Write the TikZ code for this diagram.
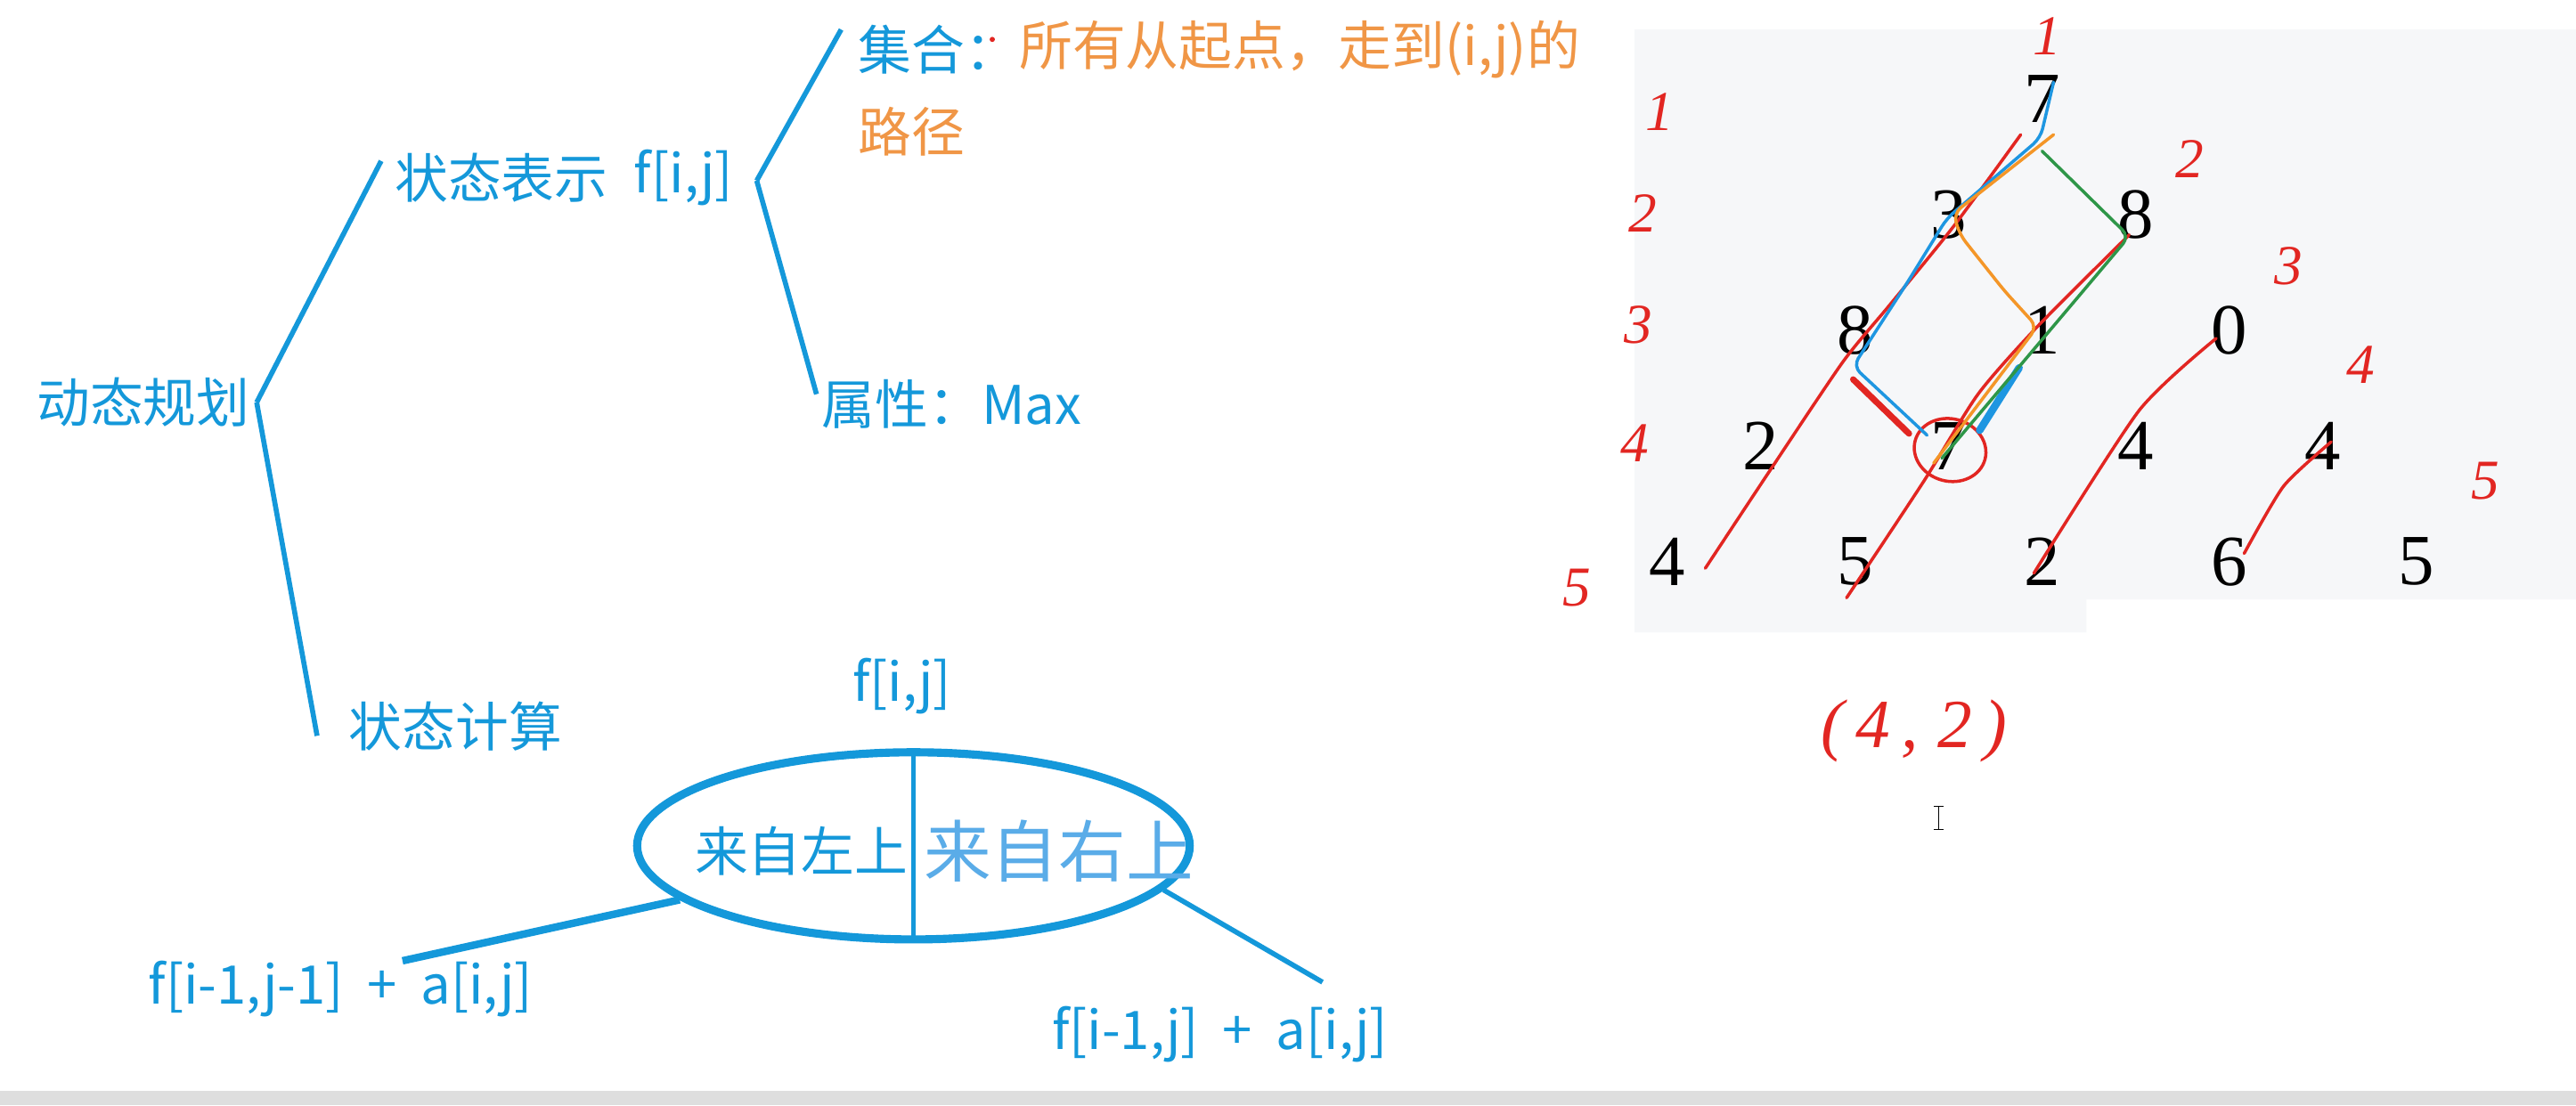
\documentclass[tikz,border=0pt]{standalone}
\usepackage{fontspec}
\setmainfont{Liberation Serif}
\newfontfamily\cjk{Noto Sans CJK SC}
\usepackage{xcolor}
\usetikzlibrary{positioning}
\usetikzlibrary{shapes.geometric,calc}
\definecolor{mindblue}{RGB}{20,152,218}
\definecolor{lightblue}{RGB}{90,172,232}
\definecolor{setorange}{RGB}{240,150,70}
\definecolor{inkred}{RGB}{226,38,34}
\definecolor{inkgreen}{RGB}{46,150,72}
\definecolor{inkorange}{RGB}{244,150,40}
\definecolor{inkblue}{RGB}{30,150,225}
\definecolor{panelgray}{RGB}{246,247,249}
\definecolor{bargray}{RGB}{222,222,222}
\newcommand\inkline[2]{%
	\draw[ink,#1] plot[smooth,tension=0.4] coordinates {#2};}

\begin{document}
\begin{tikzpicture}[x=0.01844cm,y=-0.01844cm,
	cjktext/.style={font=\cjk\fontsize{17}{20}\selectfont,text=mindblue,inner sep=0pt},
	branch/.style={draw=mindblue,line width=1.6pt},
	trinum/.style={font=\fontsize{23}{26}\selectfont,inner sep=0pt},
	inknum/.style={font=\itshape\fontsize{18}{20}\selectfont,text=inkred,inner sep=0pt},
	ink/.style={line width=1pt,line cap=round,line join=round}]
	\useasboundingbox (0,0) rectangle (1568,673);
	\fill[white] (0,0) rectangle (1568,673);
	\fill[bargray] (0,664) rectangle (1568,673);
	% mind map
	\node[cjktext,anchor=west] (dp) at (22,245) {动态规划};
	\node[cjktext,anchor=west] (repr) at (240,108) {状态表示};
	\node[cjktext,right=2.8mm of repr] (fij) {f[i,j]};
	\node[cjktext,anchor=west] (setlbl) at (522,30) {集合：};
	\node[cjktext,text=setorange,right=0pt of setlbl] (setdesc) {所有从起点，走到(i,j)的};
	\node[cjktext,text=setorange,anchor=west] (setpath) at (522,80) {路径};
	\node[cjktext,anchor=west] (attr) at (500,246) {属性：Max};
	\node[cjktext,anchor=west] (comp) at (212,442) {状态计算};
	\fill[inkred] (604,24) circle (1.6);
	\draw[branch] ([xshift=2pt]dp.east) -- ($(repr.west)+(-8,-10)$);
	\draw[branch] ([xshift=2pt]dp.east) -- ($(comp.west)+(-19,6)$);
	\draw[branch] ($(fij.east)+(14,2)$) -- ($(setlbl.west)+(-10,-12)$);
	\draw[branch] ($(fij.east)+(14,2)$) -- ($(attr.west)+(-3,-6)$);
	% split of f[i,j]
	\node[draw=mindblue,line width=2.6pt,ellipse,minimum width=6.2cm,minimum height=2.1cm,inner sep=0pt] (split) at (556,515) {};
	\node[cjktext] (ftop) at (549,418) {f[i,j]};
	\draw[mindblue,line width=1.4pt] (split.north) -- (split.south);
	\node[cjktext,anchor=east] (fromleft) at (553,518) {来自左上};
	\node[cjktext,text=lightblue,font=\cjk\fontsize{21.5}{24}\selectfont,anchor=west] (fromright) at (562,518) {来自右上};
	\node[cjktext,anchor=west] (lhs) at (90,602) {f[i-1,j-1]\ \ +\ \ a[i,j]};
	\node[cjktext,anchor=west] (rhs) at (640,630) {f[i-1,j]\ \ +\ \ a[i,j]};
	\coordinate (lend) at (245,585);
	\coordinate (rend) at (805,598);
	\draw[branch,line width=2.4pt] (split.193) -- (lend);
	\draw[branch] (split.-10) -- (rend);
	% number triangle
	\fill[panelgray] (995,18) -- (1568,18) -- (1568,365) -- (1270,365) -- (1270,385) -- (995,385) -- cycle;
	\foreach \r/\c/\v in {1/1/7, 2/1/3, 2/2/8, 3/1/8, 3/2/1, 3/3/0, 4/1/2, 4/2/7, 4/3/4, 4/4/4, 5/1/4, 5/2/5, 5/3/2, 5/4/6, 5/5/5}
		\node[trinum] (n\r\c) at ({1243+(2*\c-\r-1)*57},{60+(\r-1)*70.5}) {\v};
	% row and diagonal indices
	\foreach \v/\x/\y in {1/1010/68, 2/1000/130, 3/997/198, 4/995/270, 5/960/358, 1/1246/22, 2/1333/97, 3/1393/162, 4/1437/222, 5/1513/293}
		\node[inknum] at (\x,\y) {\v};
	\node[inknum,font=\itshape\fontsize{22}{24}\selectfont] (cell) at (1165,445) {(\,4\,,\;2\,)};
	% hand drawn paths
	\inkline{inkred}{(1038,346) (1079,284) (1122,220) (1150,186) (1189,138) (1230,82)}
	\inkline{inkred}{(1124,364) (1171,293) (1204,240) (1240,199) (1296,143)}
	\inkline{inkred}{(1238,349) (1302,250) (1349,206)}
	\inkline{inkred}{(1366,337) (1390,296) (1419,269)}
	\draw[ink,inkred,line width=2pt] (1128,231) -- (1162,264);
	\draw[ink,inkred,rotate around={-15:(1187,274)}] (1187,274) ellipse (22 and 19);
	\draw[ink,inkblue,rounded corners=3] (1250,50) -- (1242,84) -- (1185,133) -- (1161,172) -- (1128,223) -- (1173,265);
	\draw[ink,inkblue,line width=2.4pt] (1229,224) -- (1205,262);
	\draw[ink,inkorange,rounded corners=3] (1250,82) -- (1189,130) -- (1193,143) -- (1220,177) -- (1240,199) -- (1177,282);
	\draw[ink,inkgreen,rounded corners=3] (1243,92) -- (1296,144) -- (1182,279);
	%\draw[ink,inkblue] (n11) -- (n21) -- (n31) -- (n42);
	\draw[black,line width=0.5pt] (1177,491) -- (1183,491) (1180,491) -- (1180,505) (1177,505) -- (1183,505);
\end{tikzpicture}
\end{document}
